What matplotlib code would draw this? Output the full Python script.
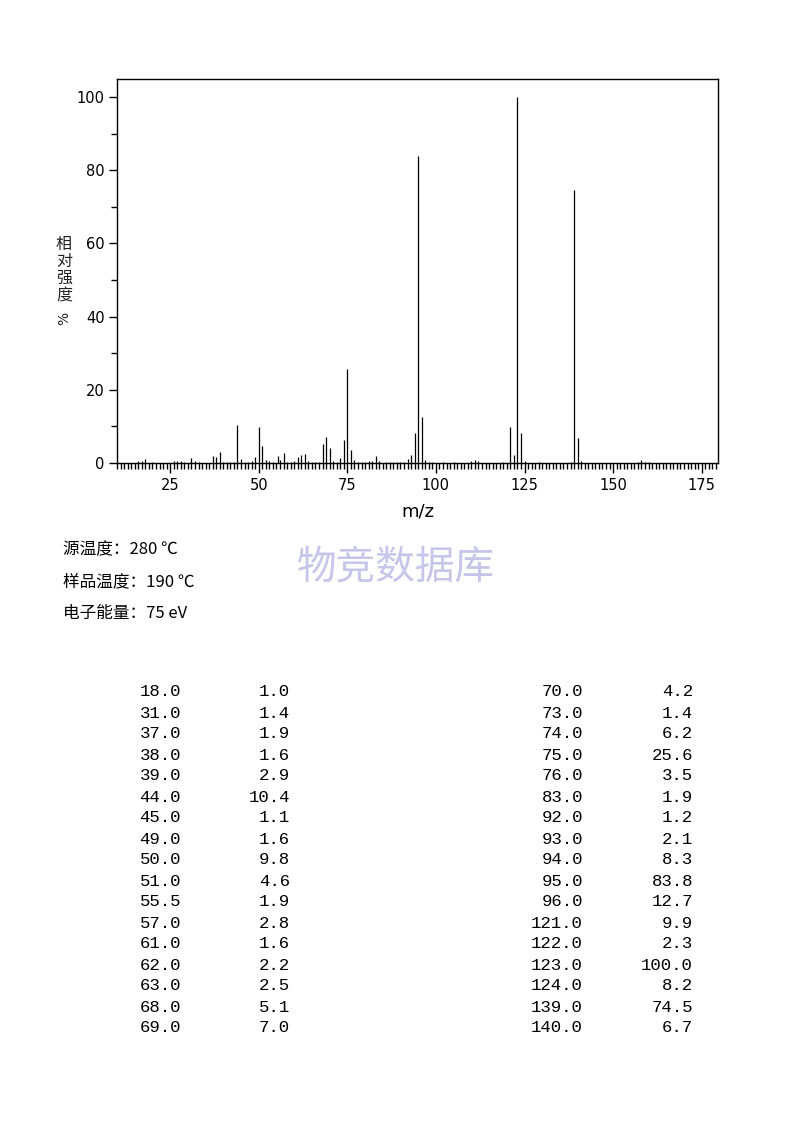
import matplotlib
matplotlib.use("Agg")
import matplotlib.pyplot as plt
from matplotlib.ticker import MultipleLocator
import numpy as np

# peaks listed in the table (m/z, relative intensity %)
table_mz = [18.0, 31.0, 37.0, 38.0, 39.0, 44.0, 45.0, 49.0, 50.0, 51.0, 55.5,
            57.0, 61.0, 62.0, 63.0, 68.0, 69.0,
            70.0, 73.0, 74.0, 75.0, 76.0, 83.0, 92.0, 93.0, 94.0, 95.0, 96.0,
            121.0, 122.0, 123.0, 124.0, 139.0, 140.0]
table_int = [1.0, 1.4, 1.9, 1.6, 2.9, 10.4, 1.1, 1.6, 9.8, 4.6, 1.9,
             2.8, 1.6, 2.2, 2.5, 5.1, 7.0,
             4.2, 1.4, 6.2, 25.6, 3.5, 1.9, 1.2, 2.1, 8.3, 83.8, 12.7,
             9.9, 2.3, 100.0, 8.2, 74.5, 6.7]

# small peaks (< 1 %)
minor_mz = [16, 17, 20, 26, 27, 28, 29, 32, 33, 40, 41, 42, 43, 46, 47, 48,
            52, 53, 54, 56, 58, 59, 60, 64, 65, 66, 67, 71, 72, 77, 78, 79, 80,
            81, 82, 84, 86, 87, 88, 89, 90, 91, 97, 98, 99, 102, 105, 110, 111,
            112, 119, 125, 129, 138, 141, 157, 158, 159, 160]
minor_int = [0.5, 0.5, 0.3, 0.5, 0.5, 0.5, 0.4, 0.5, 0.3, 0.3, 0.3, 0.3, 0.4,
             0.4, 0.4, 0.6, 0.7, 0.5, 0.3, 0.8, 0.3, 0.4, 0.5, 0.6, 0.4, 0.3,
             0.3, 0.6, 0.3, 0.8, 0.4, 0.3, 0.3, 0.6, 0.5, 0.5, 0.3, 0.3, 0.3,
             0.3, 0.3, 0.3, 0.8, 0.4, 0.3, 0.3, 0.3, 0.5, 0.8, 0.5, 0.4, 0.5,
             0.4, 0.3, 0.6, 0.3, 0.8, 0.4, 0.3]

info_lines = ["源温度：280 ℃", "样品温度：190 ℃", "电子能量：75 eV"]
watermark = "物竞数据库"

cjk = ["Noto Sans CJK SC", "DejaVu Sans"]
W, H = 794, 1134
fig = plt.figure(figsize=(W / 100, H / 100), dpi=100)

# axes box in pixels: left 117, right 718, top 79, bottom 463
ax = fig.add_axes([117 / W, 1 - 463 / H, 601 / W, 384 / H])
mz = np.array(table_mz + minor_mz, dtype=float)
inten = np.array(table_int + minor_int, dtype=float)
ax.vlines(mz, 0, inten, color="black", linewidth=0.9)

ax.set_xlim(10, 179.6)
ax.set_ylim(0, 104.9)
ax.xaxis.set_major_locator(MultipleLocator(25))
ax.xaxis.set_minor_locator(MultipleLocator(1))
ax.yaxis.set_major_locator(MultipleLocator(20))
ax.yaxis.set_minor_locator(MultipleLocator(10))
ax.tick_params(axis="x", which="major", direction="out", length=7, width=1,
               labelsize=10.5, pad=4)
ax.tick_params(axis="x", which="minor", direction="out", length=4, width=1)
ax.tick_params(axis="y", which="major", direction="out", length=6, width=1,
               labelsize=10.5, pad=3)
ax.tick_params(axis="y", which="minor", direction="out", length=4, width=1)
for s in ax.spines.values():
    s.set_linewidth(1)

fig.text(418 / W, 1 - 512 / H, "m/z", ha="center", va="center", fontsize=13)

# stacked vertical y label
fig.text(64 / W, 1 - 270 / H, "相\n对\n强\n度", ha="center", va="center",
         fontsize=11.5, family=cjk, linespacing=1.0, color="#222222")
fig.text(64 / W, 1 - 318 / H, "%", ha="center", va="center", fontsize=10,
         rotation=90, color="#222222")

for i, line in enumerate(info_lines):
    fig.text(63 / W, 1 - (550 + 31.5 * i) / H, line, ha="left", va="center",
             fontsize=12, family=cjk)

fig.text(396 / W, 1 - 567 / H, watermark, ha="center", va="center",
         fontsize=28.5, family=cjk, color="#c6c6ea")

# peak table, two columns
half = (len(table_mz) + 1) // 2
cols = [(table_mz[:half], table_int[:half], 181, 290),
        (table_mz[half:], table_int[half:], 583, 693)]
for mzs, ints, xm, xi in cols:
    for r, (m, v) in enumerate(zip(mzs, ints)):
        y = 1 - (692 + 21 * r) / H
        fig.text(xm / W, y, f"{m:.1f}", ha="right", va="center",
                 fontsize=12.5, family="Liberation Mono")
        fig.text(xi / W, y, f"{v:.1f}", ha="right", va="center",
                 fontsize=12.5, family="Liberation Mono")

fig.savefig("out.png", dpi=100)
